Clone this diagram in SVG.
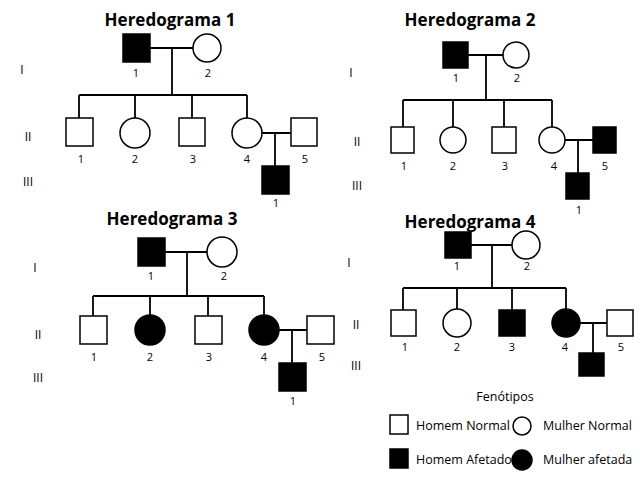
<svg xmlns="http://www.w3.org/2000/svg" width="640" height="481" viewBox="0 0 640 481">
<style>
.n{fill:#fff;stroke:#000;stroke-width:1.5}
.a{fill:#000;stroke:#000;stroke-width:1.5}
.l{stroke:#000;stroke-width:1.8;fill:none}
text{font-family:"Open Sans","DejaVu Sans",sans-serif;fill:#000}
.t{font-size:17px;font-weight:bold;text-anchor:middle}
.g{font-size:11px;text-anchor:middle}
.r{font-size:12px;text-anchor:middle}
.lg{font-size:12.5px}
</style>
<rect width="640" height="481" fill="#fff"/>
<g id="connectors">
<path class="l" d="M150 48H193M172 48V95M79 95H247M79 95V118M135 95V118M192 95V118M247 95V118M262 133H291M275 133V166"/>
<path class="l" d="M468 55H503M486 55V100M403 100H552M403 100V127M453 100V127M504 100V127M552 100V127M565 140H593M578 140V173"/>
<path class="l" d="M165 252H207M187 252V296M93 296H264M93 296V316M150 296V315M208 296V316M264 296V315M279 330H307M292 330V363"/>
<path class="l" d="M471 245H512M492 245V288M403 288H566M403 288V310M457 288V309M512 288V310M566 288V309M580 323H607M593 323V353"/>
</g>
<g id="h1">
<text class="t" x="170" y="26">Heredograma 1</text>
<text class="r" x="22" y="74">I</text><text class="r" x="28" y="141">II</text><text class="r" x="28" y="186">III</text>
<g id="h1-I1"><rect class="a" x="123" y="34" width="27" height="28"/><text class="g" x="136" y="77">1</text></g>
<g id="h1-I2"><circle class="n" cx="207" cy="48" r="14"/><text class="g" x="208" y="77">2</text></g>
<g id="h1-II1"><rect class="n" x="66" y="118" width="27" height="28"/><text class="g" x="81" y="163">1</text></g>
<g id="h1-II2"><circle class="n" cx="135" cy="133" r="15"/><text class="g" x="135" y="163">2</text></g>
<g id="h1-II3"><rect class="n" x="179" y="118" width="26" height="28"/><text class="g" x="193" y="163">3</text></g>
<g id="h1-II4"><circle class="n" cx="247" cy="133" r="15"/><text class="g" x="247" y="163">4</text></g>
<g id="h1-II5"><rect class="n" x="291" y="118" width="26" height="28"/><text class="g" x="305" y="163">5</text></g>
<g id="h1-III1"><rect class="a" x="262" y="166" width="27" height="28"/><text class="g" x="276" y="207">1</text></g>
</g>
<g id="h2">
<text class="t" x="470" y="26">Heredograma 2</text>
<text class="r" x="351" y="77">I</text><text class="r" x="357" y="146">II</text><text class="r" x="357" y="190">III</text>
<g id="h2-I1"><rect class="a" x="443" y="42" width="25" height="26"/><text class="g" x="456" y="82">1</text></g>
<g id="h2-I2"><circle class="n" cx="516" cy="55" r="13"/><text class="g" x="517" y="82">2</text></g>
<g id="h2-II1"><rect class="n" x="391" y="127" width="23" height="26"/><text class="g" x="404" y="170">1</text></g>
<g id="h2-II2"><circle class="n" cx="453" cy="140" r="13"/><text class="g" x="453" y="170">2</text></g>
<g id="h2-II3"><rect class="n" x="492" y="127" width="24" height="26"/><text class="g" x="505" y="170">3</text></g>
<g id="h2-II4"><circle class="n" cx="552" cy="140" r="13"/><text class="g" x="554" y="170">4</text></g>
<g id="h2-II5"><rect class="a" x="593" y="127" width="23" height="26"/><text class="g" x="605" y="170">5</text></g>
<g id="h2-III1"><rect class="a" x="566" y="173" width="23" height="26"/><text class="g" x="579" y="214">1</text></g>
</g>
<g id="h3">
<text class="t" x="172" y="225">Heredograma 3</text>
<text class="r" x="35" y="272">I</text><text class="r" x="38" y="339">II</text><text class="r" x="38" y="382">III</text>
<g id="h3-I1"><rect class="a" x="138" y="238" width="27" height="28"/><text class="g" x="151" y="280">1</text></g>
<g id="h3-I2"><circle class="n" cx="222" cy="252" r="15"/><text class="g" x="224" y="280">2</text></g>
<g id="h3-II1"><rect class="n" x="80" y="316" width="27" height="28"/><text class="g" x="94" y="361">1</text></g>
<g id="h3-II2"><circle class="a" cx="150" cy="330" r="15"/><text class="g" x="150" y="361">2</text></g>
<g id="h3-II3"><rect class="n" x="195" y="316" width="27" height="28"/><text class="g" x="209" y="361">3</text></g>
<g id="h3-II4"><circle class="a" cx="264" cy="330" r="15"/><text class="g" x="264" y="361">4</text></g>
<g id="h3-II5"><rect class="n" x="307" y="316" width="27" height="28"/><text class="g" x="322" y="361">5</text></g>
<g id="h3-III1"><rect class="a" x="279" y="363" width="27" height="28"/><text class="g" x="293" y="405">1</text></g>
</g>
<g id="h4">
<text class="t" x="470" y="228">Heredograma 4</text>
<text class="r" x="349" y="267">I</text><text class="r" x="356" y="329">II</text><text class="r" x="356" y="370">III</text>
<g id="h4-I1"><rect class="a" x="445" y="232" width="26" height="26"/><text class="g" x="457" y="270">1</text></g>
<g id="h4-I2"><circle class="n" cx="526" cy="245" r="14"/><text class="g" x="527" y="270">2</text></g>
<g id="h4-II1"><rect class="n" x="391" y="310" width="25" height="26"/><text class="g" x="405" y="351">1</text></g>
<g id="h4-II2"><circle class="n" cx="457" cy="323" r="14"/><text class="g" x="457" y="351">2</text></g>
<g id="h4-II3"><rect class="a" x="499" y="310" width="26" height="26"/><text class="g" x="512" y="351">3</text></g>
<g id="h4-II4"><circle class="a" cx="566" cy="323" r="14"/><text class="g" x="565" y="351">4</text></g>
<g id="h4-II5"><rect class="n" x="607" y="310" width="26" height="26"/><text class="g" x="621" y="351">5</text></g>
<g id="h4-III1"><rect class="a" x="579" y="353" width="25" height="23"/></g>
</g>
<g id="legend">
<text class="lg" x="505" y="401" text-anchor="middle">Fenótipos</text>
<rect class="n" x="390" y="415" width="18" height="19"/><text class="lg" x="416" y="430">Homem Normal</text>
<circle class="n" cx="522" cy="426" r="9"/><text class="lg" x="543" y="430">Mulher Normal</text>
<rect class="a" x="390" y="449" width="18" height="19"/><text class="lg" x="416" y="464">Homem Afetado</text>
<circle class="a" cx="522" cy="460" r="10"/><text class="lg" x="543" y="464">Mulher afetada</text>
</g>
</svg>
